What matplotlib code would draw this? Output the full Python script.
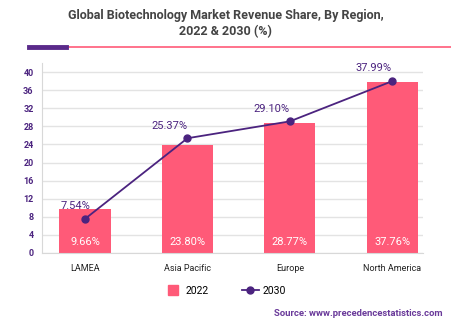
import matplotlib as mpl
mpl.use('Agg')
import matplotlib.pyplot as plt
from matplotlib.lines import Line2D

plt.rcParams['font.family'] = ['Roboto', 'DejaVu Sans']

regions = ['LAMEA', 'Asia Pacific', 'Europe', 'North America']
share_2022 = [9.66, 23.80, 28.77, 37.76]
share_2030 = [7.54, 25.37, 29.10, 37.99]
yticks = [0, 4, 8, 12, 16, 20, 24, 28, 32, 36, 40]

pink = '#ff5a78'
purple = '#4b237f'

fig = plt.figure(figsize=(4.51, 3.26), dpi=100)
ax = fig.add_axes([42 / 451, 1 - 253 / 326, 381 / 451, 190 / 326])

x = range(len(regions))
ax.bar(x, share_2022, width=0.5, color=pink, zorder=2)
ax.plot(x, share_2030, color=purple, lw=1.3, marker='o', ms=5, zorder=3)

for i, v in enumerate(share_2022):
    ax.text(i, 2.4, f'{v:.2f}%', ha='center', va='center', color='white', fontsize=8, zorder=4)
for i, v in enumerate(share_2030):
    dx = -0.09 if i == 0 else -0.18
    ax.text(i + dx, v + 2.8, f'{v:.2f}%', ha='center', va='center', color=purple, fontsize=8, zorder=4)

ax.set_xlim(-0.42, 3.30)
ax.set_ylim(0, 42)
ax.set_yticks(yticks)
ax.set_yticklabels([str(t) for t in yticks], color=purple, fontsize=6.5, fontweight='bold')
ax.set_xticks(list(x))
ax.set_xticklabels(regions, fontsize=6.5, color='#222222')
ax.tick_params(length=0, pad=6)
ax.tick_params(axis='x', pad=8)
ax.grid(axis='y', color='#e3e3e3', lw=1, zorder=0)
for side in ['top', 'right']:
    ax.spines[side].set_visible(False)
ax.spines['left'].set_color('#d8d8d8')
ax.spines['bottom'].set_color('#d8d8d8')

# title and underline
fig.text(0.5, 1 - 16 / 326, 'Global Biotechnology Market Revenue Share, By Region,',
         ha='center', va='center', fontsize=9, fontweight='bold', color='#444444')
fig.text(0.5, 1 - 32 / 326, '2022 & 2030 (%)',
         ha='center', va='center', fontsize=9, fontweight='bold', color='#444444')
fig.add_artist(Line2D([66 / 451, 1.0], [1 - 47 / 326] * 2, color=pink, lw=1.2))
fig.add_artist(Line2D([29 / 451, 66 / 451], [1 - 47 / 326] * 2, color='#5a2a8a', lw=3.5))

# legend
handles = [Line2D([], [], color=pink, marker='s', ms=7, ls='none', label='2022'),
           Line2D([], [], color=purple, marker='o', ms=5, lw=1.3, label='2030')]
fig.legend(handles=handles, loc='center', bbox_to_anchor=(0.5, 1 - 291 / 326), ncol=2,
           frameon=False, fontsize=7.5, handlelength=1.6, columnspacing=3.2, handletextpad=0.4)

fig.text(443 / 451, 1 - 314 / 326, 'Source: www.precedencestatistics.com',
         ha='right', va='center', fontsize=6.8, fontweight='bold', color='#6a3a9a')

fig.savefig('out.png', dpi=100, facecolor='white')
